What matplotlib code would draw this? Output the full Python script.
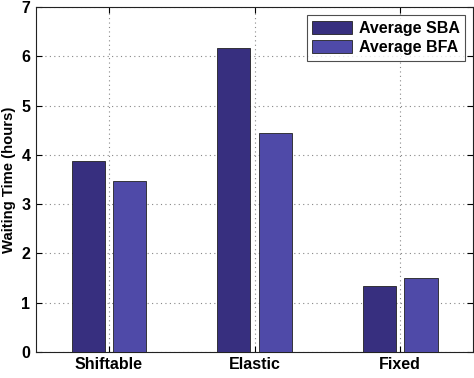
import numpy as np
import matplotlib
matplotlib.use("Agg")
import matplotlib.pyplot as plt

categories = ["Shiftable", "Elastic", "Fixed"]
sba = [3.87, 6.17, 1.34]
bfa = [3.47, 4.45, 1.51]
series_names = ["Average SBA", "Average BFA"]

plt.rcParams['font.family'] = ['Liberation Sans', 'DejaVu Sans']
plt.rcParams['font.weight'] = 'bold'

fig = plt.figure(figsize=(4.74, 3.78), dpi=100)
ax = fig.add_axes([0.076, 0.069, 0.922, 0.912])

x = np.arange(1, len(categories) + 1)
w = 0.228
off = 0.142
ax.bar(x - off, sba, w, color="#372f7f", edgecolor="#222222", linewidth=0.6,
       label=series_names[0], zorder=3)
ax.bar(x + off, bfa, w, color="#4f4aa8", edgecolor="#222222", linewidth=0.6,
       label=series_names[1], zorder=3)

ax.set_xlim(0.5, 3.5)
ax.set_ylim(0, 7)
ax.set_xticks(x)
ax.set_xticklabels(categories, fontsize=11.5, fontweight='bold')
ax.set_yticks(range(0, 8))
ax.set_yticklabels([str(v) for v in range(0, 8)], fontsize=11.5, fontweight='bold')
ax.tick_params(direction='in', top=True, right=True, length=4, width=0.8, pad=4)
ax.set_ylabel("Waiting Time (hours)", fontsize=10.7, fontweight='bold', labelpad=4)

ax.grid(True, linestyle=(0, (1, 3)), color="#888888", linewidth=0.8, zorder=0)
ax.set_axisbelow(True)
for s in ax.spines.values():
    s.set_linewidth(0.8)
    s.set_color("#222222")

leg = ax.legend(loc='upper right', fontsize=11.5, frameon=True, fancybox=False,
                edgecolor="#222222", handlelength=2.5, handleheight=0.9,
                borderaxespad=0.5, labelspacing=0.25, handletextpad=0.4,
                borderpad=0.35)
leg.get_frame().set_linewidth(0.8)
for t in leg.get_texts():
    t.set_fontweight('bold')

fig.savefig("out.png", dpi=100)
